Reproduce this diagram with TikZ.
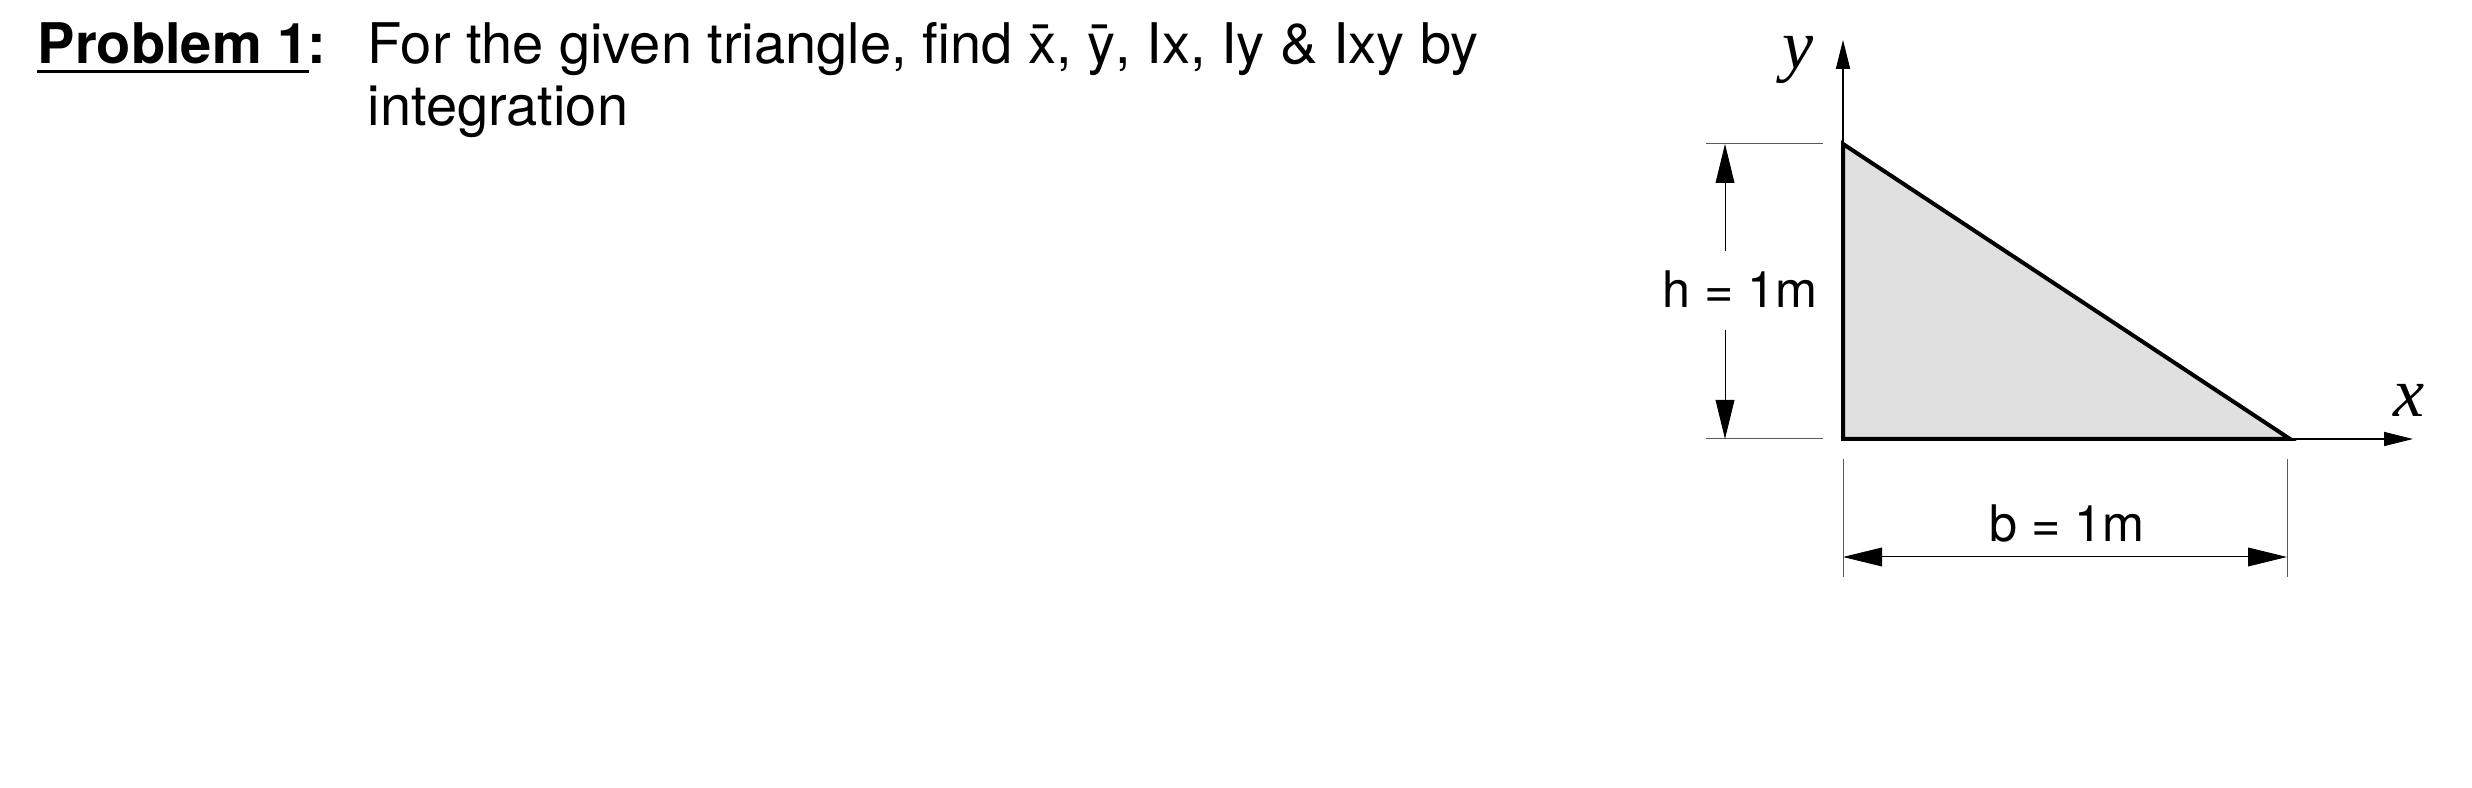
\documentclass[tikz,border=0pt]{standalone}
\usepackage{fontspec}
\setmainfont{TeX Gyre Heros}
\newfontfamily\axisfont{Liberation Serif}
\usetikzlibrary{arrows.meta}
\tikzset{
  title/.style={inner sep=0pt, font=\fontsize{14}{16}\selectfont},
  dimlabel/.style={inner sep=0pt, font=\fontsize{12.6}{15}\selectfont},
  axislabel/.style={inner sep=0pt, font=\axisfont\itshape\fontsize{17.5}{20}\selectfont},
  extline/.style={line width=0.25pt, black!65},
  dimline/.style={line width=0.25pt, black, {Triangle[length=9.75pt,width=4.7pt]}-{Triangle[length=9.75pt,width=4.7pt]}},
  axisline/.style={line width=0.3pt, black, -{Triangle[length=7.2pt,width=3.5pt]}},
  areashape/.style={line width=1pt, fill=black!12, draw=black}
}
\begin{document}
\begin{tikzpicture}[x=0.25pt,y=-0.25pt]
\useasboundingbox (0,0) rectangle (2472,788);
% title
\node[title, anchor=base west, font=\fontsize{14}{16}\selectfont\bfseries] (prob) at (37,64) {Problem 1};
\node[title, anchor=base west, font=\fontsize{14}{16}\selectfont\bfseries] (colon) at (307,64) {:};
\draw[line width=0.75pt] ([yshift=-2pt]prob.base west) -- ([yshift=-2pt]prob.base east);
\node[title, anchor=base west] (line1) at (367,64) {For the given triangle, find \={x}, \={y}, Ix, Iy \& Ixy by};
\node[title, anchor=base west] (line2) at (367,126) {integration};
% triangle
\coordinate (A) at (1843,144);
\coordinate (O) at (1843,439);
\coordinate (B) at (2290,439);
\coordinate (ytip) at (1843,40);
\coordinate (xtip) at (2413,439);
\draw[areashape] (A) -- (O) -- (B) -- cycle;
\draw[axisline] (O) -- (ytip);
\draw[axisline] (B) -- (xtip);
\node[axislabel] (ylab) at (1798,60) {y};
\node[axislabel] (xlab) at (2409,400) {x};
% h dimension
\coordinate (hx1) at (1706,144);
\coordinate (hx2) at (1823,144);
\coordinate (hx3) at (1706,439);
\coordinate (hx4) at (1823,439);
\draw[extline] (hx1) -- (hx2);
\draw[extline] (hx3) -- (hx4);
\coordinate (htop) at (1725,144);
\coordinate (hbot) at (1725,439);
\node[dimlabel, anchor=base] (hlab) at (1740,308) {h = 1m};
\coordinate (hgap1) at (1725,251);
\coordinate (hgap2) at (1725,330);
\draw[line width=0.25pt, {Triangle[length=9.75pt,width=4.7pt]}-] (htop) -- (hgap1);
\draw[line width=0.25pt, -{Triangle[length=9.75pt,width=4.7pt]}] (hgap2) -- (hbot);
% b dimension
\coordinate (bx1) at (1843,459);
\coordinate (bx2) at (1843,577);
\coordinate (bx3) at (2287,459);
\coordinate (bx4) at (2287,577);
\draw[extline] (bx1) -- (bx2);
\draw[extline] (bx3) -- (bx4);
\coordinate (bl) at (1843,557);
\coordinate (br) at (2287,557);
\draw[dimline] (bl) -- (br);
\node[dimlabel, anchor=base] (blab) at (2067,542) {b = 1m};
\end{tikzpicture}
\end{document}
